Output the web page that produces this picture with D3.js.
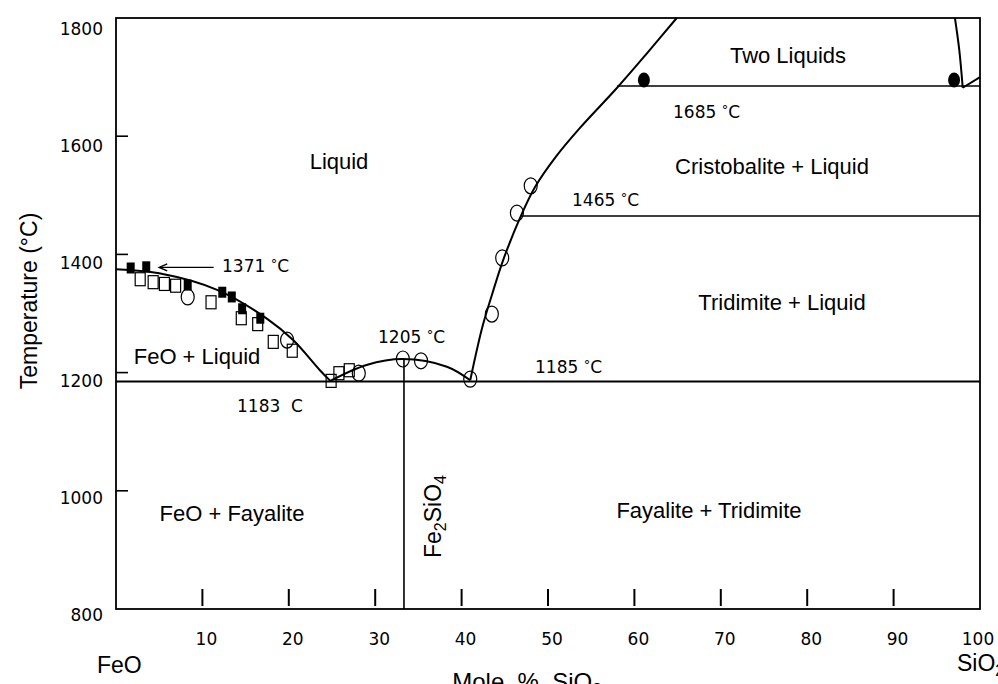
<!DOCTYPE html>
<html>
<head>
<meta charset="utf-8">
<script src="https://cdn.jsdelivr.net/npm/d3@7"></script>
<style>
  body { margin: 0; background: #fff; }
  svg { display: block; }
  .region { font-family: "Liberation Sans", Arial, sans-serif; font-size: 22px; fill: #000; }
  .num { font-family: "DejaVu Sans", Verdana, sans-serif; font-size: 17px; fill: #000; }
</style>
</head>
<body>
<div id="chart"></div>
<script>
// Fe-O-SiO2 phase diagram values (mole % SiO2, temperature in C)
var xTicks = [10, 20, 30, 40, 50, 60, 70, 80, 90];
var xLabels = [10, 20, 30, 40, 50, 60, 70, 80, 90, 100];
var yTicks = [1000, 1200, 1400, 1600];
var yLabels = [800, 1000, 1200, 1400, 1600, 1800];

var liquidusFeO = [[0, 1375], [5, 1368], [11.7, 1340], [17.5, 1291], [20.5, 1255], [23.6, 1204], [24.8, 1186]];
var fayaliteDome = [[24.8, 1186], [29, 1213], [33.2, 1223], [38.3, 1210], [41, 1187]];
var liquidusSiO2 = [[41, 1187], [42.4, 1277], [43.5, 1331], [44.8, 1390], [46.8, 1463], [48.5, 1514], [50.9, 1565], [53.7, 1614], [58, 1682], [61.5, 1741], [64.9, 1800]];
var twoLiquidRight = [[97.1, 1800], [97.6, 1746], [98, 1682]];
var cristobaliteLiquidus = [[98, 1682], [100, 1700]];

var isotherms = [[0, 100, 1185], [46.9, 100, 1465], [58, 100, 1685]];
var fayaliteComp = 33.33;
var fayaliteTop = 1223;

var openSquares = [[2.8, 1358], [4.3, 1353], [5.6, 1350], [6.9, 1347], [11, 1319], [14.5, 1292], [16.4, 1282], [18.2, 1252], [20.4, 1237], [24.9, 1186], [25.8, 1199], [27, 1204]];
var filledSquares = [[1.7, 1377], [3.5, 1379], [8.3, 1348], [12.3, 1336], [13.4, 1328], [14.6, 1308], [16.7, 1292]];
var openCircles = [[8.3, 1328], [19.8, 1255], [28.1, 1199], [33.2, 1223], [35.3, 1220], [41, 1189], [43.5, 1299], [44.7, 1394], [46.4, 1470], [48, 1516]];
var filledCircles = [[61.1, 1695], [97, 1695]];

var svg = d3.select("#chart").append("svg").attr("width", 998).attr("height", 684);
svg.append("rect").attr("width", 998).attr("height", 684).attr("fill", "#fff");

var x = d3.scaleLinear().domain([0, 100]).range([116, 980]);
var y = d3.scaleLinear().domain([800, 1800]).range([609, 18]);
// tick labels sit a little lower than the ticks in the original
var yLab = d3.scaleLinear().domain([800, 1800]).range([621, 35]);

var line = d3.line().x(function(d) { return x(d[0]); }).y(function(d) { return y(d[1]); }).curve(d3.curveCatmullRom.alpha(0.5));

// frame
svg.append("rect").attr("x", x(0)).attr("y", y(1800)).attr("width", x(100) - x(0)).attr("height", y(800) - y(1800))
  .attr("fill", "none").attr("stroke", "#000").attr("stroke-width", 1.8);

// ticks
svg.selectAll(".yt").data(yTicks).enter().append("line")
  .attr("x1", x(0)).attr("x2", x(0) + 12).attr("y1", function(d) { return y(d); }).attr("y2", function(d) { return y(d); })
  .attr("stroke", "#000").attr("stroke-width", 1.6);
svg.selectAll(".xt").data(xTicks).enter().append("line")
  .attr("x1", function(d) { return x(d); }).attr("x2", function(d) { return x(d); })
  .attr("y1", y(800) - 20).attr("y2", y(800) - 3)
  .attr("stroke", "#000").attr("stroke-width", 2);

// tick labels
svg.selectAll(".yl").data(yLabels).enter().append("text").attr("class", "num")
  .attr("x", 103).attr("y", function(d) { return yLab(d); }).attr("text-anchor", "end").text(function(d) { return d; });
svg.selectAll(".xl").data(xLabels).enter().append("text").attr("class", "num")
  .attr("x", function(d) { return d == 100 ? x(d) - 2 : x(d) + 4; }).attr("y", 645).attr("text-anchor", "middle").text(function(d) { return d; });

// axis titles
svg.append("text").attr("class", "region").style("font-size", "23px")
  .attr("transform", "translate(37,301) rotate(-90)").attr("text-anchor", "middle").text("Temperature (°C)");
svg.append("text").attr("class", "region").style("font-size", "23px").attr("x", 97).attr("y", 673).text("FeO");
var mt = svg.append("text").attr("class", "region").style("font-size", "24px").attr("x", 527).attr("y", 690).attr("text-anchor", "middle");
mt.append("tspan").text("Mole\u00a0\u00a0%\u00a0\u00a0SiO");
mt.append("tspan").attr("dy", 5).style("font-size", "17px").text("2");
var st = svg.append("text").attr("class", "region").style("font-size", "23px").attr("x", 957).attr("y", 671);
st.append("tspan").text("SiO");
st.append("tspan").attr("dy", 5).style("font-size", "16px").text("2");

// isotherms
svg.selectAll(".iso").data(isotherms).enter().append("line")
  .attr("x1", function(d) { return x(d[0]); }).attr("x2", function(d) { return x(d[1]); })
  .attr("y1", function(d) { return y(d[2]); }).attr("y2", function(d) { return y(d[2]); })
  .attr("stroke", "#000").attr("stroke-width", function(d, i) { return i == 0 ? 2 : 1.4; });

svg.append("line").attr("x1", x(fayaliteComp)).attr("x2", x(fayaliteComp)).attr("y1", y(fayaliteTop)).attr("y2", y(800))
  .attr("stroke", "#000").attr("stroke-width", 1.6);

// phase boundaries
var boundaries = [liquidusFeO, fayaliteDome, liquidusSiO2, twoLiquidRight, cristobaliteLiquidus];
boundaries.forEach(function(c) {
  svg.append("path").attr("d", line(c)).attr("fill", "none").attr("stroke", "#000").attr("stroke-width", 2);
});

// experimental points
svg.selectAll(".os").data(openSquares).enter().append("rect")
  .attr("x", function(d) { return x(d[0]) - 5; }).attr("y", function(d) { return y(d[1]) - 6.5; })
  .attr("width", 10).attr("height", 13).attr("fill", "none").attr("stroke", "#000").attr("stroke-width", 1.2);
svg.selectAll(".fs").data(filledSquares).enter().append("rect")
  .attr("x", function(d) { return x(d[0]) - 4; }).attr("y", function(d) { return y(d[1]) - 5.5; })
  .attr("width", 8).attr("height", 11).attr("fill", "#000");
svg.selectAll(".oc").data(openCircles).enter().append("ellipse")
  .attr("cx", function(d) { return x(d[0]); }).attr("cy", function(d) { return y(d[1]); })
  .attr("rx", 6.5).attr("ry", 8).attr("fill", "none").attr("stroke", "#000").attr("stroke-width", 1.2);
svg.selectAll(".fc").data(filledCircles).enter().append("ellipse")
  .attr("cx", function(d) { return x(d[0]); }).attr("cy", function(d) { return y(d[1]); })
  .attr("rx", 6).attr("ry", 7.5).attr("fill", "#000");

// arrow to FeO melting point
svg.append("line").attr("x1", x(11.3)).attr("x2", x(5.1)).attr("y1", y(1378)).attr("y2", y(1378)).attr("stroke", "#000").attr("stroke-width", 1.4);
svg.append("path").attr("d", d3.line()([[x(5) + 8, y(1378) - 3.5], [x(5), y(1378)], [x(5) + 8, y(1378) + 3.5]]))
  .attr("fill", "none").attr("stroke", "#000").attr("stroke-width", 1.4);

// temperature labels
function degLabel(px, py, num, deg) {
  var t = svg.append("text").attr("class", "num").attr("x", px).attr("y", py);
  if (!deg) { t.text(num + "\u00a0\u00a0C"); return; }
  t.append("tspan").text(num + "\u00a0");
  t.append("tspan").style("font-size", "13px").attr("dy", -4).text("°");
  t.append("tspan").attr("dy", 4).text("C");
}
degLabel(222, 272, "1371", true);
degLabel(237, 412, "1183", false);
degLabel(378, 343, "1205", true);
degLabel(535, 373, "1185", true);
degLabel(572, 206, "1465", true);
degLabel(673, 118, "1685", true);

// region labels
var regions = [["Liquid", 339, 169], ["FeO + Liquid", 197, 364], ["Two Liquids", 788, 63], ["Cristobalite + Liquid", 772, 174],
  ["Tridimite + Liquid", 782, 310], ["FeO + Fayalite", 232, 521], ["Fayalite + Tridimite", 709, 518]];
svg.selectAll(".rl").data(regions).enter().append("text").attr("class", "region")
  .attr("x", function(d) { return d[1]; }).attr("y", function(d) { return d[2]; }).attr("text-anchor", "middle").text(function(d) { return d[0]; });

var fe = svg.append("text").attr("class", "region").style("font-size", "23px").attr("transform", "translate(441,558) rotate(-90)");
fe.append("tspan").text("Fe");
fe.append("tspan").attr("dy", 5).style("font-size", "16px").text("2");
fe.append("tspan").attr("dy", -5).text("SiO");
fe.append("tspan").attr("dy", 5).style("font-size", "16px").text("4");
</script>
</body>
</html>
